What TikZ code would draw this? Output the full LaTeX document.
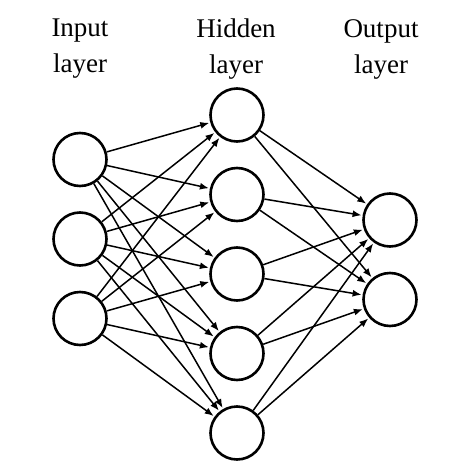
\documentclass[tikz,border=0pt]{standalone}
\usepackage{fontspec}
\setmainfont{Liberation Serif}
\usetikzlibrary{positioning,arrows.meta}

\begin{document}
\begin{tikzpicture}[x=1pt,y=1pt,node distance=79.5pt,on grid,
		neuron/.style={circle,draw,line width=2.6pt,minimum size=53pt},
		layername/.style={align=center,font=\fontsize{27}{36}\selectfont},
		>={Latex[length=9pt,width=7pt]}]
					\useasboundingbox (0,0) rectangle (474,-474);
					% hidden layer
					\node[neuron] (h_3) at (237,-274) {};
					\node[neuron] (h_2) [above=of h_3] {};
					\node[neuron] (h_1) [above=of h_2] {};
					\node[neuron] (h_4) [below=of h_3] {};
					\node[neuron] (h_5) [below=of h_4] {};
					% input layer
					\node[neuron] (i_2) at (80,-239) {};
					\node[neuron] (i_1) [above=of i_2] {};
					\node[neuron] (i_3) [below=of i_2] {};
					% output layer
					\node[neuron] (o_1) at (390,-220) {};
					\node[neuron] (o_2) [below=of o_1] {};
					% labels
					\node[layername] (l_in)  at (80,-49)  {Input\\layer};
					\node[layername] (l_hid) at (236,-49) {Hidden\\layer};
					\node[layername] (l_out) at (381,-49) {Output\\layer};
					\path[->,line width=1.5pt,shorten >=1pt]
					foreach \i in {1,2,3} {foreach \h in {1,...,5} {(i_\i) edge (h_\h)}}
					foreach \h in {1,...,5} {foreach \o in {1,2} {(h_\h) edge (o_\o)}}
					;
				\end{tikzpicture}
\end{document}
